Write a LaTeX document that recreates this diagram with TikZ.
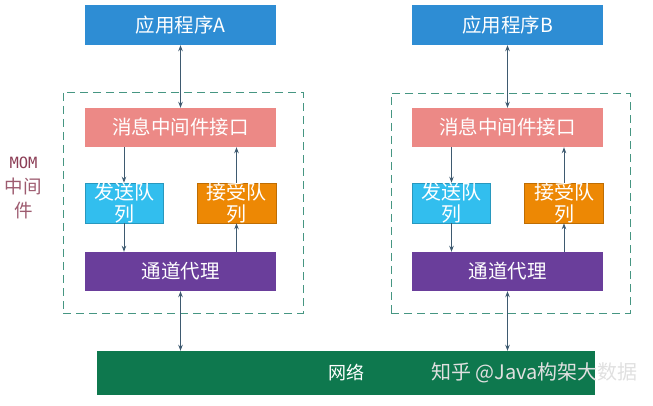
\documentclass[tikz,border=0pt]{standalone}
\usepackage{fontspec}
\setmainfont{Noto Sans CJK SC}
\newfontfamily\momfont{DejaVu Sans Mono}
\usetikzlibrary{arrows.meta}
\definecolor{appblue}{RGB}{46,141,212}
\definecolor{ifsalmon}{RGB}{236,137,134}
\definecolor{sendcyan}{RGB}{50,190,238}
\definecolor{recvorange}{RGB}{237,136,4}
\definecolor{chpurple}{RGB}{106,62,155}
\definecolor{netgreen}{RGB}{14,120,78}
\definecolor{dashteal}{RGB}{70,150,130}
\definecolor{arrowslate}{RGB}{62,90,112}
\definecolor{momred}{RGB}{140,62,86}
\tikzset{
  box/.style={rectangle, inner sep=0pt, text=white, font=\fontsize{19.5}{22}\selectfont},
  appbox/.style={box, fill=appblue, minimum width=191pt, minimum height=40pt},
  ifbox/.style={box, fill=ifsalmon, minimum width=191pt, minimum height=39pt},
  chbox/.style={box, fill=chpurple, minimum width=191pt, minimum height=39pt},
  sendbox/.style={box, fill=sendcyan, draw=sendcyan!80!black, line width=0.6pt, minimum width=78pt, minimum height=40pt},
  recvbox/.style={box, fill=recvorange, draw=recvorange!80!black, line width=0.6pt, minimum width=79pt, minimum height=40pt},
  qtext/.style={text=white, inner sep=0pt, align=center, font=\fontsize{20}{22.5}\selectfont},
  frame/.style={draw=dashteal, line width=0.9pt, dash pattern=on 8pt off 5pt},
  conn/.style={draw=arrowslate, line width=0.9pt},
  tip/.style={conn, -{Stealth[length=6pt,width=4.5pt]}},
  biconn/.style={conn, {Stealth[length=6pt,width=4.5pt]}-{Stealth[length=6pt,width=4.5pt]}},
}
\begin{document}
\begin{tikzpicture}[x=1pt,y=-1pt]
\useasboundingbox (0,0) rectangle (653,406);
% dashed frames
\node[frame, minimum width=240pt, minimum height=221pt, inner sep=0pt] (frameA) at (183,202.5) {};
\node[frame, minimum width=239pt, minimum height=220pt, inner sep=0pt] (frameB) at (510.5,203) {};
% left side
\node[appbox] (appA) at (180.5,25) {应用程序A};
\node[ifbox] (ifA) at (180.5,127.5) {消息中间件接口};
\node[sendbox] (sendA) at (124,203) {};
\node[recvbox] (recvA) at (236.5,203) {};
\node[qtext] (sendAt) at (sendA.center) {发送队\\列};
\node[qtext] (recvAt) at (recvA.center) {接受队\\列};
\node[chbox] (chA) at (180.5,271.5) {通道代理};
% right side
\node[appbox] (appB) at (507.5,25) {应用程序B};
\node[ifbox] (ifB) at (507.5,127.5) {消息中间件接口};
\node[sendbox] (sendB) at (451.5,203) {};
\node[recvbox] (recvB) at (564,203) {};
\node[qtext] (sendBt) at (sendB.center) {发送队\\列};
\node[qtext] (recvBt) at (recvB.center) {接受队\\列};
\node[chbox] (chB) at (507.5,271.5) {通道代理};
% network
\node[box, fill=netgreen, minimum width=498pt, minimum height=44pt, font=\fontsize{18}{20}\selectfont] (net) at (346,373) {网络};
\node[text=white!88!black, inner sep=0pt, font=\fontsize{20}{22}\selectfont] (wm) at (534.5,373) {知乎 @Java构架大数据};
% MOM label
\node[text=momred, inner sep=0pt, font=\momfont\fontsize{15.5}{17}\selectfont] (mom) at (23.5,162.5) {MOM};
\node[text=momred!85!white, inner sep=0pt, align=center, font=\fontsize{18.5}{24}\selectfont] (momcn) at (23.5,198) {中间\\件};
% connectors
\draw[biconn] (appA.south) -- (ifA.north);
\draw[biconn] (appB.south) -- (ifB.north);
\draw[tip] (ifA.south -| sendA.north) -- (sendA.north);
\draw[tip] (recvA.north) -- (recvA.north |- ifA.south);
\draw[tip] (sendA.south) -- (sendA.south |- chA.north);
\draw[tip] (recvA.south |- chA.north) -- (recvA.south);
\draw[tip] (ifB.south -| sendB.north) -- (sendB.north);
\draw[tip] (recvB.north) -- (recvB.north |- ifB.south);
\draw[tip] (sendB.south) -- (sendB.south |- chB.north);
\draw[tip] (recvB.south |- chB.north) -- (recvB.south);
\draw[biconn] (chA.south) -- (chA.south |- net.north);
\draw[biconn] (chB.south) -- (chB.south |- net.north);
\end{tikzpicture}
\end{document}
